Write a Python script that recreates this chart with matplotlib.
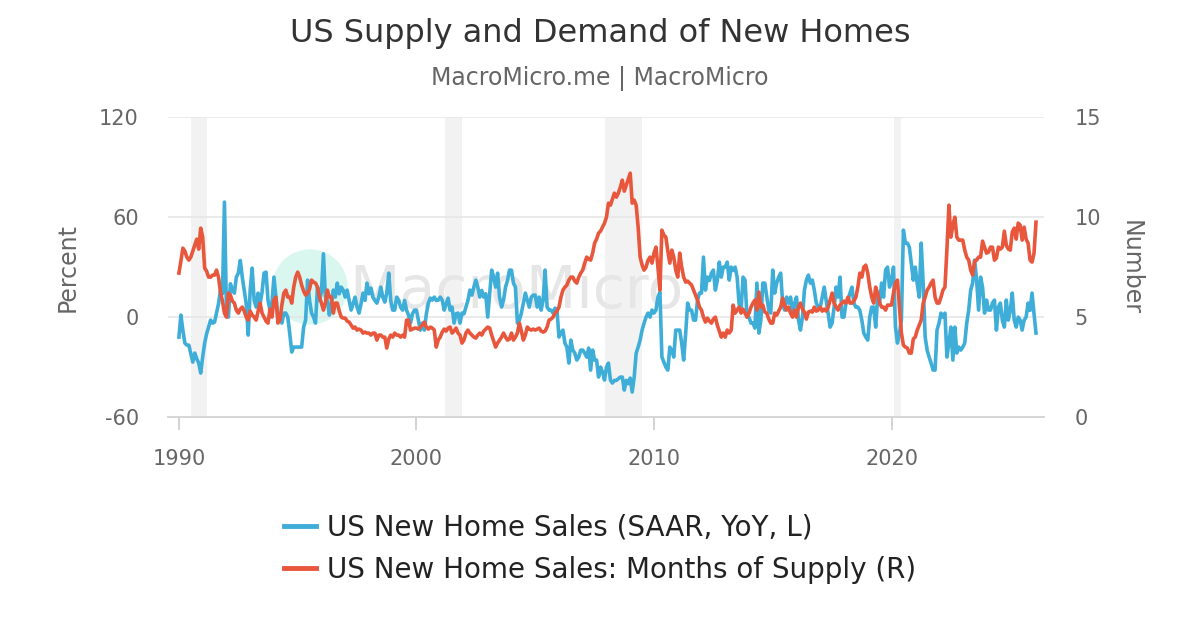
import numpy as np
import pandas as pd
import matplotlib
matplotlib.use("Agg")
import matplotlib.pyplot as plt
from matplotlib.patches import Ellipse

plt.rcParams["axes.unicode_minus"] = False

# monthly data, Jan 1990 .. Feb 2026
sales_yoy = [
    -12, 1.2, -8, -15.6, -16.8, -16.8, -22, -27, -21.6, -25, -27.6, -33.6,      # 1990
    -24, -15.6, -10, -6, -1.8, -3.6, -3, 2.4, 8, 16.2, 14, 69,                  # 1991
    4.2, 0, 20, 16.2, 14.4, 24, 26.4, 34, 24, 16.2, 8, -10.8,                   # 1992
    16.2, 29.4, 10.2, 6, 14.4, 8, 15, 26.4, 27, 10.2, 4.2, 8.4,                 # 1993
    24, 12, 0, 1.2, -3.6, 2.4, 2.4, 0, -10, -21, -18, -18,                      # 1994
    -18, -18, -18, -6, -1.8, 22.2, 10, 2.4, 0, -3.6, 18, 10.2,                  # 1995
    15, 38, 12, 10.2, 1.2, 8, 16.2, 12, 20.4, 14, 18, 16.2,                     # 1996
    12, 16.2, 10, 4.2, 8, 12, 6, 2.4, 8, 14.4, 10, 20.4,                        # 1997
    14, 17.4, 12, 10, 8.4, 12, 18, 12, 9, 14.4, 26.4, 10,                       # 1998
    4.2, 4.2, 12, 10.2, 6, 4.2, 10, 4.2, 1.2, -3.6, 2, 4.2,                     # 1999
    4.2, -2, -7.8, -3.6, -7.8, 2, 8.4, 11.4, 10.2, 12, 10, 10.2,                # 2000
    12, 10.2, 4.2, 8, 11.4, 4.2, 6, -3.6, 2, 2.4, -3.6, 2.4,                    # 2001
    2, 6, 10, 16.2, 13.2, 18, 22.2, 18, 12, 16, 12, 14,                         # 2002
    0, 14.4, 28.2, 24, 18, 26.4, 12, 6, 10.2, 18, 22, 28.2,                     # 2003
    28.2, 20.4, 18, -3.6, -1.8, 2.4, 8.4, 14.4, 10.2, 6, 12, 13.2,              # 2004
    13.2, 6, 12, 4.2, 10.2, 28.2, 6, 4.2, 4.2, 2.4, 5.4, 4,                     # 2005
    -12, -9.6, -7.8, -15.6, -18, -27.6, -13.8, -19.8, -21.6, -25.8, -24, -19.8, # 2006
    -19.8, -21.6, -24, -18.6, -31.8, -19.8, -25.8, -25.8, -36, -30, -33, -37.8, # 2007
    -30, -27.6, -37.8, -39.6, -38, -38, -37, -36, -36, -43.8, -38, -40,         # 2008
    -36.6, -45, -36, -21.6, -18, -13.8, -7.8, -3.6, 0, 2.4, 0, 4.2,             # 2009
    2.4, 4.2, 12, 15, -24, -27, -30, -31.8, -18, -20, -24, -7.8,                # 2010
    -7.8, -7.8, -15.6, -25.8, -10, 8.4, 4.2, 4.2, -1.8, -1.8, 10.2, 14.4,       # 2011
    14.4, 36, 16.2, 24, 22, 26.4, 28.2, 16.2, 22, 33, 24, 30,                   # 2012
    30, 33, 22.2, 30, 28, 30, 24, 8, 4.2, 24, 22.2, 0,                          # 2013
    0, -3.6, -3.6, -6.6, 20.4, -9.6, -1.8, 20.4, 20.4, 12, 4.2, 2.4,            # 2014
    28.2, 14.4, 20.4, 24, 26.4, 8.4, 4.2, 12, 8.4, 12, 2.4, 8,                  # 2015
    12, -1.8, -7.8, 0, 16.2, 22.2, 25.2, 20.4, 22.2, 16.2, 8.4, 6,              # 2016
    6, 12, 18, 10, 2.4, -6, -3.6, 6, 18, 12, 24, 0,                             # 2017
    0, 8.4, 10.2, 14.4, 18, 8.4, 6, 6, 4, -1.8, -9.6, -12,                      # 2018
    -13.8, 0, 6, 6, -6, 12, 8.4, 20.4, 12, 28.2, 30, 18,                        # 2019
    22.2, 30, -6, -15.6, -10, -1.8, 52.2, 44.4, 44.4, 42, 32.4, 22.2,           # 2020
    30, 20, 12, 44.4, 20, -12, -19.8, -24, -27.6, -31.8, -31.8, -7.8,           # 2021
    -3.6, 2.4, 0, 2.4, -24, -15.6, -6, -25.8, -6, -21.6, -18, -19.8,            # 2022
    -18, -15.6, -3.6, 4.2, 16.2, 20.4, 34.2, 22.2, 4.2, 24, 18, 2.4,            # 2023
    10.2, 4.2, 4.2, 8.4, 10.2, -7.8, 6, 8.4, -1.8, -6, 10.2, -1.8,              # 2024
    4, 14.4, -1.8, -6, 0, -1.8, -7.8, -1.8, 0, 8.4, 4, 14.4,                    # 2025
    2, -9.6,                                                                    # 2026
]

months_supply = [
    7.2, 7.8, 8.45, 8.3, 8.0, 7.85, 8.0, 8.3, 8.6, 8.9, 8.4, 9.45,         # 1990
    9.0, 7.45, 7.3, 7.0, 7.0, 7.1, 7.1, 7.35, 7.0, 6.25, 5.8, 5.2,         # 1991
    5.0, 6.2, 6.1, 5.8, 5.7, 5.35, 5.2, 5.4, 5.5, 5.3, 5.0, 4.85,          # 1992
    5.3, 5.1, 5.0, 4.85, 5.3, 5.7, 5.2, 5.0, 4.8, 4.7, 5.4, 5.0,           # 1993
    5.85, 6.0, 4.7, 4.85, 5.6, 6.2, 6.35, 6.0, 6.0, 5.7, 6.5, 7.0,         # 1994
    7.25, 7.0, 6.6, 6.3, 6.1, 6.2, 6.4, 6.85, 6.75, 6.7, 6.5, 6.0,         # 1995
    5.7, 5.35, 5.7, 6.35, 6.0, 6.0, 5.2, 5.7, 5.7, 5.3, 5.0, 4.95,         # 1996
    4.95, 4.8, 4.75, 4.6, 4.45, 4.5, 4.35, 4.4, 4.35, 4.2, 4.25, 4.2,      # 1997
    4.2, 4.1, 4.2, 4.2, 3.85, 4.1, 4.1, 4.0, 4.0, 3.45, 3.9, 4.1,          # 1998
    4.0, 4.2, 4.1, 4.1, 4.0, 4.1, 4.0, 4.85, 4.85, 4.35, 4.4, 4.45,        # 1999
    4.45, 4.4, 4.5, 4.6, 4.75, 4.5, 4.4, 4.5, 4.45, 4.35, 3.5, 3.85,       # 2000
    4.0, 4.25, 4.4, 4.3, 4.45, 4.5, 4.2, 4.3, 4.45, 4.2, 4.1, 3.7,         # 2001
    3.85, 4.2, 4.35, 4.2, 4.1, 4.0, 3.95, 4.1, 4.2, 4.1, 4.3, 4.4,         # 2002
    4.5, 4.45, 4.1, 3.8, 3.5, 3.7, 3.85, 4.0, 4.2, 4.0, 3.85, 3.9,         # 2003
    4.2, 3.85, 4.0, 4.2, 4.7, 4.3, 3.85, 4.1, 4.5, 4.4, 4.35, 4.4,         # 2004
    4.35, 4.4, 4.45, 4.3, 4.25, 4.3, 4.5, 4.85, 4.9, 5.0, 5.2, 5.3,        # 2005
    5.5, 6.0, 6.35, 6.5, 6.6, 6.85, 7.0, 7.0, 6.8, 6.7, 7.0, 7.2,          # 2006
    7.35, 7.7, 8.0, 7.9, 7.85, 8.2, 8.7, 8.9, 9.2, 9.3, 9.5, 9.7,          # 2007
    10.0, 10.7, 10.6, 10.9, 11.2, 11.0, 11.2, 11.5, 11.85, 11.3, 11.6, 11.9,  # 2008
    12.2, 10.7, 10.85, 10.6, 9.5, 8.0, 7.6, 7.35, 7.5, 7.85, 8.0, 7.7,     # 2009
    8.2, 8.5, 7.5, 6.35, 9.35, 9.1, 9.0, 8.3, 7.7, 8.35, 8.0, 7.35,        # 2010
    7.0, 8.2, 7.5, 7.0, 6.75, 6.8, 6.7, 6.6, 6.35, 6.1, 5.85, 5.5,         # 2011
    5.35, 5.0, 4.75, 4.95, 4.8, 4.7, 4.9, 5.0, 4.6, 4.3, 4.0, 4.2,         # 2012
    4.0, 4.35, 4.2, 4.35, 5.6, 5.2, 5.35, 5.5, 5.2, 5.4, 5.2, 5.0,         # 2013
    5.2, 5.5, 5.7, 5.85, 5.35, 6.25, 5.5, 5.6, 5.25, 5.2, 4.9, 4.7,        # 2014
    4.7, 5.2, 5.1, 5.3, 5.5, 5.95, 5.6, 5.35, 5.5, 5.2, 5.0, 5.35,         # 2015
    5.0, 5.5, 5.7, 5.4, 5.25, 4.9, 5.25, 5.3, 5.25, 5.5, 5.3, 5.35,        # 2016
    5.5, 5.3, 5.4, 5.3, 5.5, 5.85, 6.2, 5.7, 5.5, 5.35, 5.6, 5.7,          # 2017
    5.8, 5.7, 6.0, 5.7, 5.7, 5.8, 6.0, 6.5, 7.2, 7.0, 7.5, 7.6,            # 2018
    7.2, 6.5, 6.0, 5.7, 6.5, 6.2, 5.7, 5.5, 5.5, 5.35, 5.6, 5.6,           # 2019
    5.6, 6.2, 6.7, 6.85, 5.5, 4.2, 3.6, 3.5, 3.45, 3.2, 3.2, 3.9,          # 2020
    4.0, 4.35, 4.6, 4.85, 5.7, 6.0, 6.35, 6.5, 6.7, 6.85, 6.0, 5.7,        # 2021
    5.7, 6.0, 6.35, 6.5, 8.4, 10.6, 9.0, 9.6, 10.0, 9.0, 8.85, 8.85,       # 2022
    8.85, 8.35, 8.0, 7.85, 7.35, 7.1, 7.8, 7.85, 8.0, 8.0, 8.8, 8.5,       # 2023
    8.2, 8.25, 8.5, 8.5, 7.85, 7.95, 8.5, 8.4, 8.5, 9.3, 8.6, 8.4,         # 2024
    8.35, 9.25, 9.45, 8.9, 9.7, 9.6, 8.85, 9.5, 8.9, 8.7, 7.85, 7.75,      # 2025
    8.2, 9.75,                                                             # 2026
]

# US recessions (decimal years)
recessions = [(1990.5, 1991.2), (2001.2, 2001.9), (2007.95, 2009.5), (2020.12, 2020.38)]

dates = pd.date_range("1990-01-01", periods=len(sales_yoy), freq="MS")
x = dates.year + (dates.month - 1) / 12.0

blue = "#3eaed9"
red = "#e8563c"
grey_txt = "#666666"

fig = plt.figure(figsize=(12, 6.3), dpi=100)
ax = fig.add_axes([0.14, 0.338, 0.73, 0.476])
ax2 = ax.twinx()

for a, b in recessions:
    ax.axvspan(a, b, color="#f2f2f2", zorder=0, lw=0)

# watermark (logo circle + name), drawn behind the axes
fig.patches.append(Ellipse((310 / 1200, 1 - 287 / 630), 74 / 1200, 74 / 630,
                           transform=fig.transFigure, color="#d9f7ef", zorder=-1))
ax.text(0.398, 0.42, "MacroMicro", transform=ax.transAxes, fontsize=42,
        color="#e6e6e6", ha="center", va="center", zorder=0.6)

ax.plot(x, sales_yoy, color=blue, lw=2.6, zorder=3, label="US New Home Sales (SAAR, YoY, L)")
ax2.plot(x, months_supply, color=red, lw=2.6, zorder=3,
         label="US New Home Sales: Months of Supply (R)")

ax.set_xlim(1989.54, 2026.42)
ax.set_ylim(-60, 120)
ax2.set_ylim(0, 15)
ax.set_yticks([-60, 0, 60, 120])
ax2.set_yticks([0, 5, 10, 15])
ax.set_xticks([1990, 2000, 2010, 2020])
ax.grid(axis="y", color="#e6e6e6", lw=1.2)
ax.set_axisbelow(True)
ax.patch.set_visible(False)

for a in (ax, ax2):
    for s in ("top", "left", "right"):
        a.spines[s].set_visible(False)
    a.spines["bottom"].set_color("#d6d6d6")
    a.spines["bottom"].set_linewidth(1.2)
ax.tick_params(axis="x", colors="#cccccc", labelcolor=grey_txt, labelsize=15,
               length=9, width=1.2, pad=14)
ax.tick_params(axis="y", length=0, labelcolor=grey_txt, labelsize=15, pad=21)
ax2.tick_params(axis="y", length=0, labelcolor=grey_txt, labelsize=15, pad=22)

ax.set_ylabel("Percent", fontsize=17, color=grey_txt, labelpad=14)
ax2.set_ylabel("Number", fontsize=17, color=grey_txt, rotation=270, labelpad=30)

fig.text(0.5, 0.947, "US Supply and Demand of New Homes", ha="center", va="center",
         fontsize=23, color="#333333")
fig.text(0.5, 0.876, "MacroMicro.me | MacroMicro", ha="center", va="center",
         fontsize=17, color=grey_txt)

h1, l1 = ax.get_legend_handles_labels()
h2, l2 = ax2.get_legend_handles_labels()
leg = fig.legend(h1 + h2, l1 + l2, loc="center", bbox_to_anchor=(0.5, 0.129),
                 frameon=False, fontsize=20, handlelength=1.15, handletextpad=0.4,
                 labelspacing=0.5)
for line in leg.get_lines():
    line.set_linewidth(3.5)
for t in leg.get_texts():
    t.set_color("#222222")

fig.savefig("out.png", dpi=100)
